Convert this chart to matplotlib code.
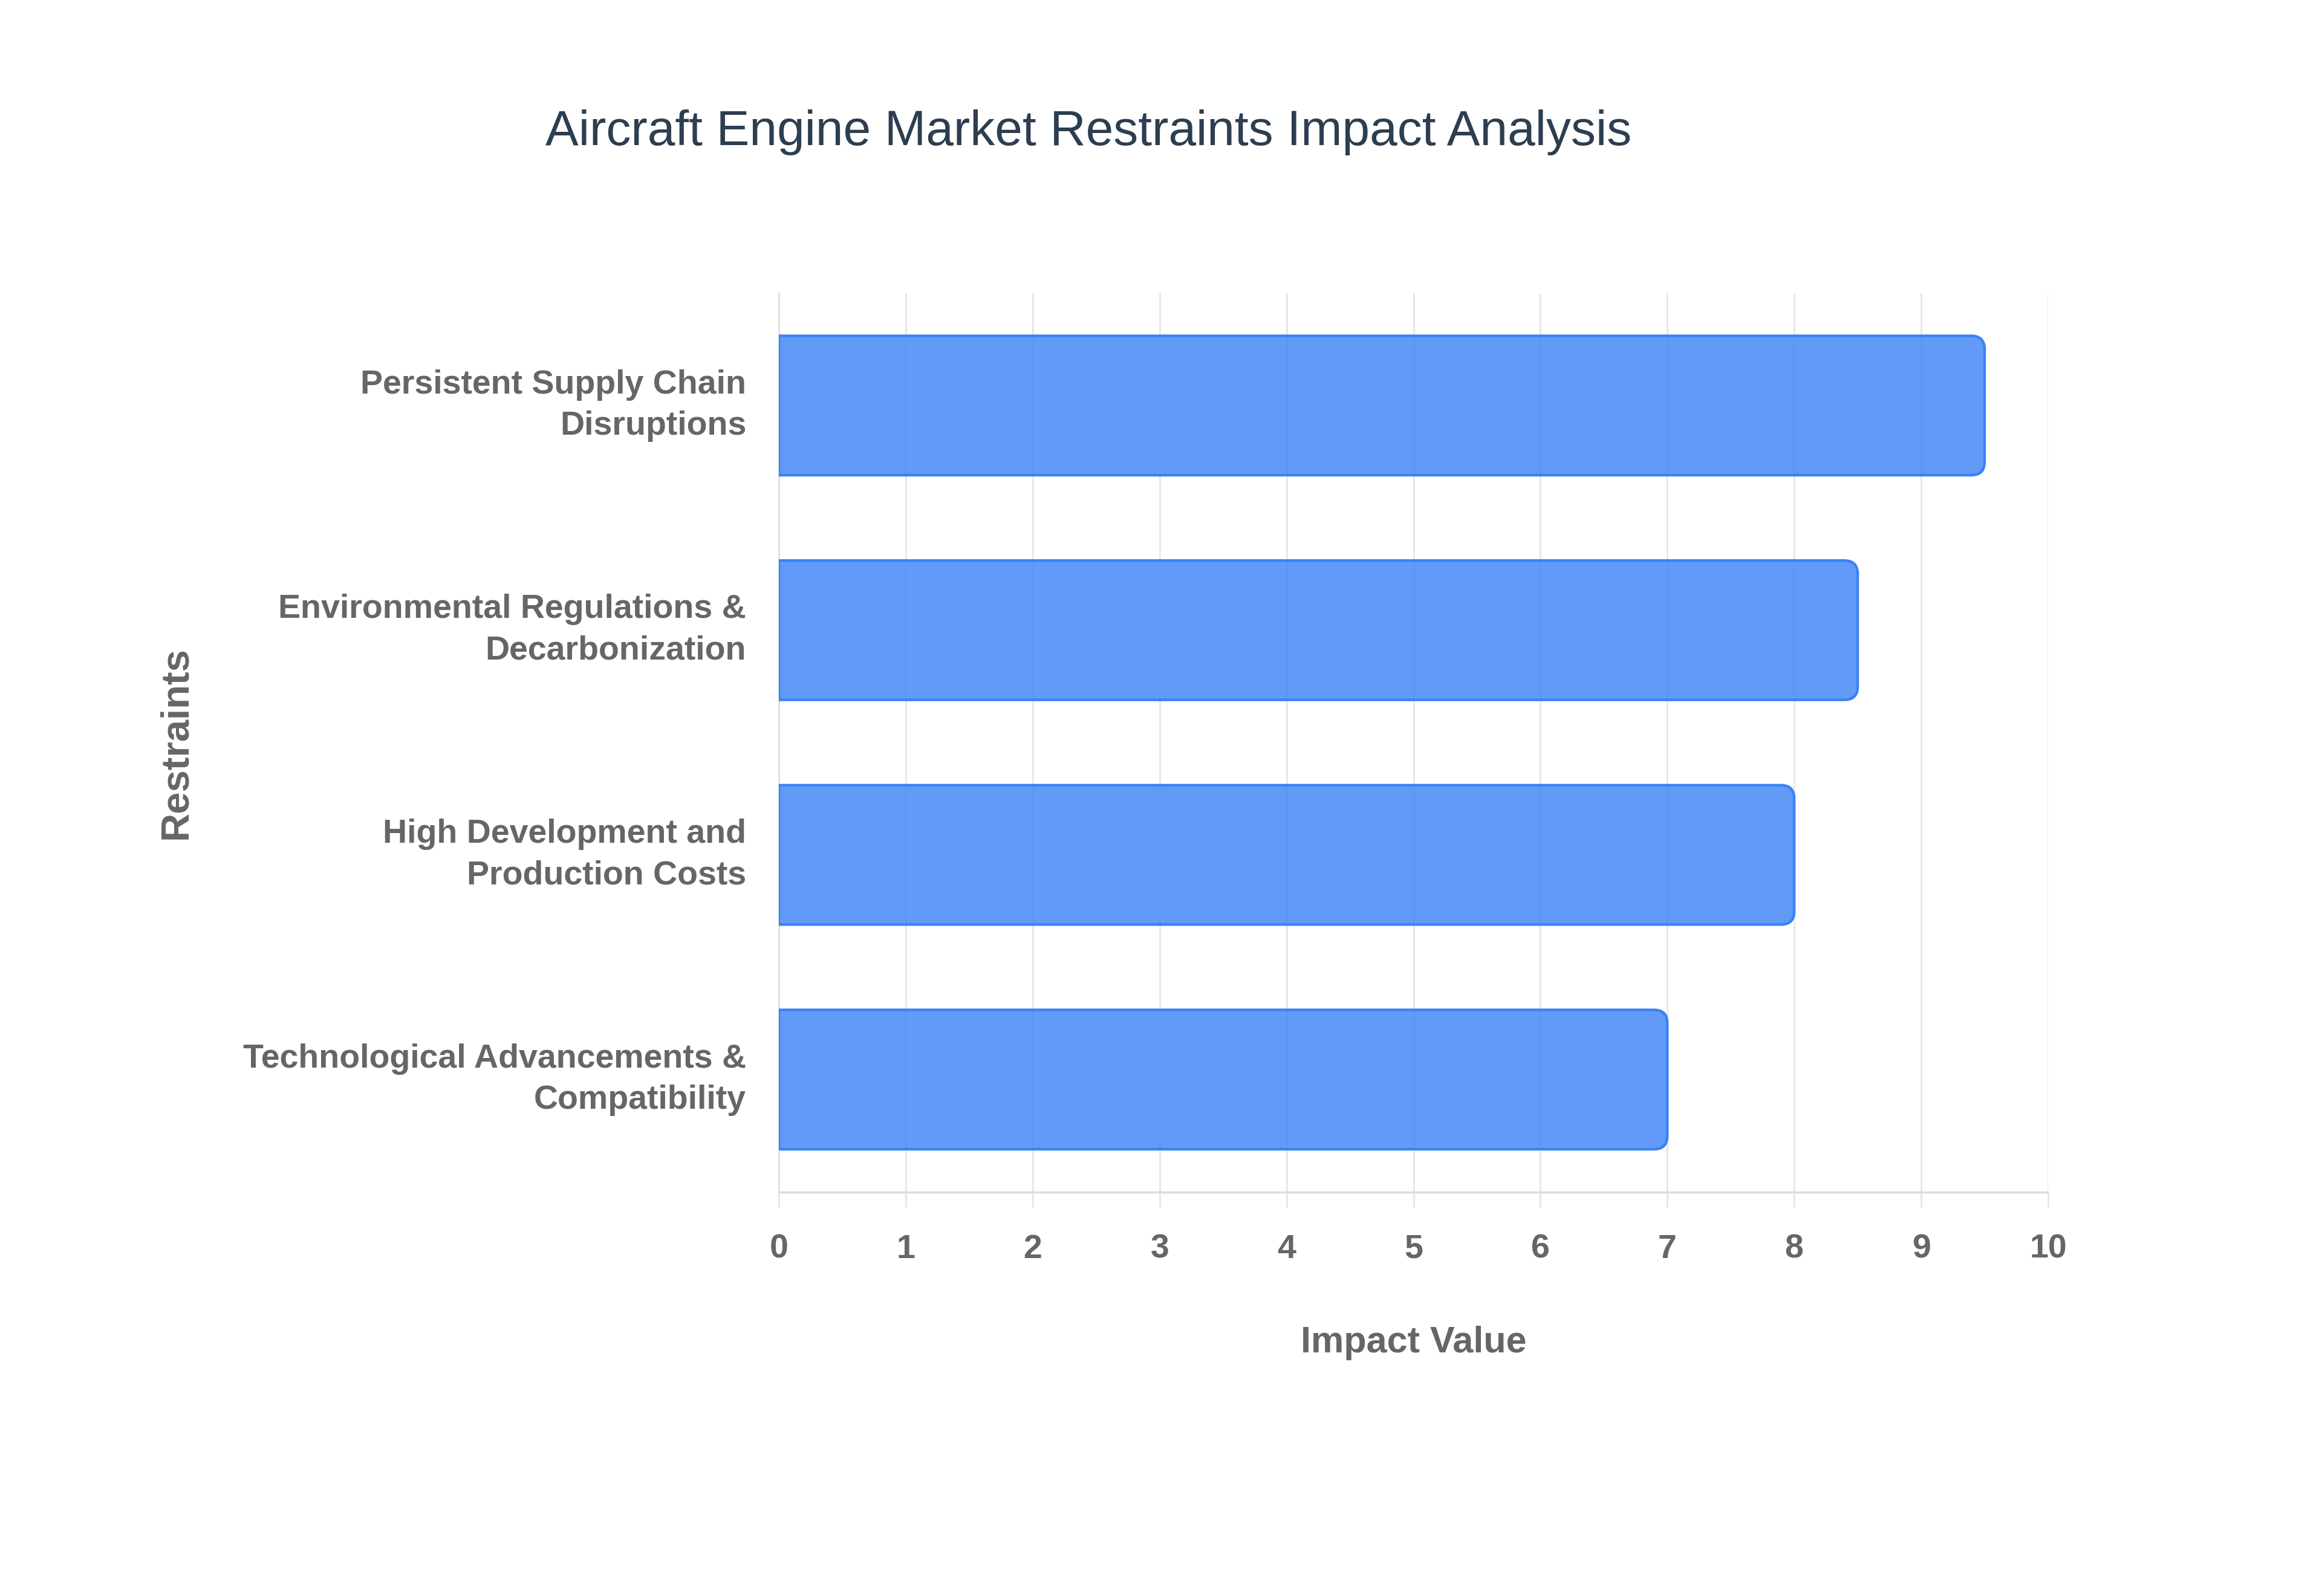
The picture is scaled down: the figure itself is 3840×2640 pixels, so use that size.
import matplotlib
matplotlib.use("Agg")
import matplotlib.pyplot as plt
from matplotlib.path import Path
from matplotlib.patches import PathPatch

# data
restraints = [
    "Persistent Supply Chain\nDisruptions",
    "Environmental Regulations &\nDecarbonization",
    "High Development and\nProduction Costs",
    "Technological Advancements &\nCompatibility",
]
impact = [9.5, 8.5, 8.0, 7.0]
x_ticks = list(range(0, 11))

title = "Aircraft Engine Market Restraints Impact Analysis"
x_title = "Impact Value"
y_title = "Restraints"

font = "Liberation Sans"

fig = plt.figure(figsize=(38.4, 26.4), dpi=100)
ax = fig.add_axes([0.3355, 0.2532, 0.5465, 0.5631])

xmin, xmax = 0, 10
ax.set_xlim(xmin, xmax)
ax.set_ylim(len(restraints) - 0.5, -0.5)

# rounded right end of each bar, radius in pixels
bar_h = 0.62
r_px = 22
fig.canvas.draw()
bbox = ax.get_window_extent()
rx = r_px * (xmax - xmin) / bbox.width
ry = r_px * len(restraints) / bbox.height

for i, v in enumerate(impact):
    y0, y1 = i - bar_h / 2, i + bar_h / 2
    verts = [(0, y0), (v - rx, y0), (v, y0), (v, y0 + ry), (v, y1 - ry),
             (v, y1), (v - rx, y1), (0, y1), (0, y0)]
    codes = [Path.MOVETO, Path.LINETO, Path.CURVE3, Path.CURVE3, Path.LINETO,
             Path.CURVE3, Path.CURVE3, Path.LINETO, Path.CLOSEPOLY]
    ax.add_patch(PathPatch(Path(verts, codes), facecolor=(59/255, 130/255, 246/255, 0.8),
                           edgecolor="#3b82f6", lw=3.2, zorder=3))

ax.set_yticks(range(len(restraints)))
ax.set_yticklabels(restraints, fontsize=40, fontweight="bold", color="#666666",
                   family=font, linespacing=1.4)
for lbl in ax.get_yticklabels():
    lbl.set_va("center")
ax.set_xticks(x_ticks)
ax.set_xticklabels([str(t) for t in x_ticks], fontsize=40, fontweight="bold",
                   color="#666666", family=font)

ax.grid(axis="x", color="#e6e6e6", lw=2)
ax.set_axisbelow(True)
for s in ["top", "right"]:
    ax.spines[s].set_visible(False)
ax.spines["left"].set_color("#e0e0e0")
ax.spines["left"].set_linewidth(2)
ax.spines["bottom"].set_color("#dcdcdc")
ax.spines["bottom"].set_linewidth(2.5)
ax.tick_params(axis="x", length=18, width=2, color="#e6e6e6", pad=32)
ax.tick_params(axis="y", length=0, pad=39)

ax.set_xlabel(x_title, fontsize=44, fontweight="bold", color="#666666",
              family=font, labelpad=72)
ax.set_ylabel(y_title, fontsize=47, fontweight="bold", color="#666666",
              family=font, labelpad=0)
ax.yaxis.set_label_coords(-0.461, 0.5)

fig.text(0.4688, 0.917, title, fontsize=59, color="#2c3e50", family=font,
         ha="center", va="center")

fig.savefig("out.png", dpi=100, facecolor="white")
